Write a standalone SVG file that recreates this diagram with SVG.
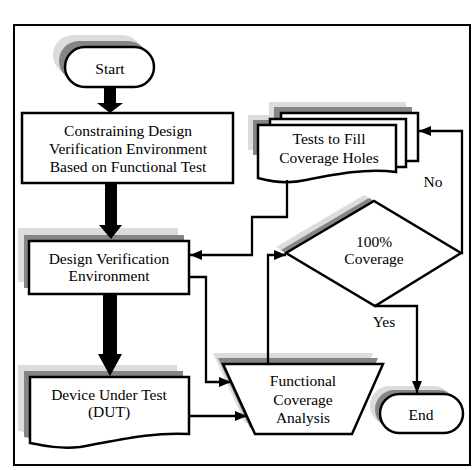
<svg xmlns="http://www.w3.org/2000/svg" width="474" height="470" viewBox="0 0 474 470">
<style>
.s{fill:#fff;stroke:#000;stroke-width:2.5}
.d{fill:#858585}
.l{fill:#dcdcdc}
.t{font-family:"Liberation Serif","Times New Roman",serif;font-size:15.5px;fill:#000;text-anchor:middle}
.c{fill:none;stroke:#000;stroke-width:2.3}
</style>
<defs>
<marker id="a" markerUnits="userSpaceOnUse" markerWidth="13" markerHeight="11" refX="12" refY="5" orient="auto">
<path d="M0,0 L12,5 L0,10 z" fill="#000"/>
</marker>
</defs>
<rect x="14" y="25" width="456" height="440" fill="#fff" stroke="#000" stroke-width="2"/>

<g id="start">
<rect class="l" x="53" y="35" width="89" height="40" rx="20"/>
<rect class="d" x="59" y="41" width="89" height="40" rx="20"/>
<rect class="s" x="65" y="47" width="89" height="40" rx="20"/>
<text class="t" x="110" y="74">Start</text>
</g>

<g id="constrain">
<rect class="s" x="22" y="113" width="211" height="70"/>
<text class="t" x="128" y="136">Constraining Design</text>
<text class="t" x="128" y="154">Verification Environment</text>
<text class="t" x="128" y="172">Based on Functional Test</text>
</g>

<g id="dve">
<rect class="l" x="18" y="228" width="160" height="54"/>
<rect class="d" x="24" y="235" width="160" height="53"/>
<rect class="s" x="29" y="241" width="160" height="53"/>
<text class="t" x="109" y="264">Design Verification</text>
<text class="t" x="109" y="281">Environment</text>
</g>

<g id="dut">
<path class="l" d="M18,365 H177 V422 C138,420 108,428 68,435 C48,437 33,434 18,431 Z"/>
<path class="d" d="M24,371 H183 V428 C144,426 114,434 74,441 C54,443 39,440 24,437 Z"/>
<path class="s" d="M30,377 H189 V434 C150,432 120,440 80,447 C60,449 45,446 30,443 Z"/>
<text class="t" x="109" y="400">Device Under Test</text>
<text class="t" x="109" y="417">(DUT)</text>
</g>

<g id="tests">
<path class="l" d="M269,102 H406 V150 H248 V171 L248,115 H269 Z"/>
<path class="d" d="M274,107 H412 V155 H253 V176 L253,120 H274 Z"/>
<rect class="s" x="281" y="113" width="137" height="48"/>
<rect class="s" x="270" y="119" width="136" height="48"/>
<path class="s" d="M258,125 H396 V172 C366,168 336,174 306,180 C288,184 272,182 258,178 Z"/>
<text class="t" x="329" y="144">Tests to Fill</text>
<text class="t" x="329" y="163">Coverage Holes</text>
</g>

<g id="decision">
<polygon class="l" points="276,247 364,195 451,247 365,300"/>
<polygon class="d" points="281,250 369,198 456,250 370,303"/>
<polygon class="s" points="286,253 374,201 461,253 375,306"/>
<text class="t" x="374" y="247">100%</text>
<text class="t" x="374" y="264">Coverage</text>
</g>

<g id="analysis">
<polygon class="l" points="213,353 373,353 342,423 245,423"/>
<polygon class="d" points="218,358 378,358 347,428 250,428"/>
<polygon class="s" points="223,364 383,364 352,434 255,434"/>
<text class="t" x="303" y="386">Functional</text>
<text class="t" x="303" y="405">Coverage</text>
<text class="t" x="303" y="423">Analysis</text>
</g>

<g id="end">
<rect class="l" x="370" y="386" width="83" height="39" rx="19.5"/>
<rect class="d" x="375" y="390" width="83" height="39" rx="19.5"/>
<rect class="s" x="380" y="394" width="83" height="39" rx="19.5"/>
<text class="t" x="421" y="420">End</text>
</g>

<g id="connectors">
<polygon points="104,87 116,87 116,103 123,103 110,113 97,103 104,103" fill="#000"/>
<polygon points="105,183 117,183 117,225 122,225 111,239 99,225 105,225" fill="#000"/>
<polygon points="103,294 117,294 117,354 122,354 110,376 98,354 103,354" fill="#000"/>
<path class="c" d="M287,180 V217 H252 V255 H190" marker-end="url(#a)"/>
<path class="c" d="M189,277 H206 V382 H231" marker-end="url(#a)"/>
<path class="c" d="M189,416 H247" marker-end="url(#a)"/>
<path class="c" d="M268,364 V255 H286" marker-end="url(#a)"/>
<path class="c" d="M375,306 H417 V393" marker-end="url(#a)"/>
<path class="c" d="M461,253 H462 V131 H419" marker-end="url(#a)"/>
<text class="t" x="384" y="327">Yes</text>
<text class="t" x="433" y="187">No</text>
</g>
</svg>
